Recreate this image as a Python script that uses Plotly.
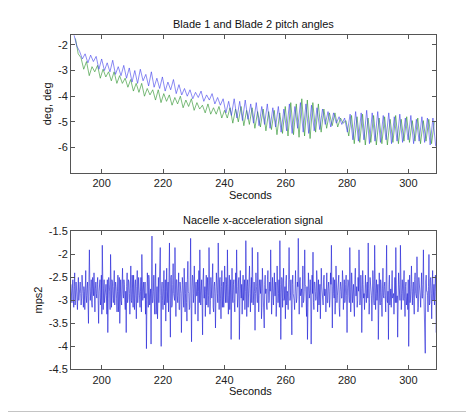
import plotly.graph_objects as go

# sampling of the pitch records (peak / trough samples)
PITCH_T0_B1 = 191.0
PITCH_T0_B2 = 191.45
PITCH_DT = 0.9

blade1_pitch = [
    -1.62, -2.05, -2.25, -2.55, -2.35, -2.70, -2.40, -2.65, -2.45, -2.95,
    -2.55, -3.00, -2.70, -3.05, -2.60, -3.15, -2.85, -3.20, -2.80, -3.30,
    -2.90, -3.45, -3.00, -3.50, -2.95, -3.40, -3.15, -3.60, -3.05, -3.65,
    -3.30, -3.70, -3.25, -3.80, -3.45, -3.75, -3.35, -3.90, -3.55, -3.95,
    -3.70, -4.00, -3.75, -4.10, -3.85, -4.05, -3.80, -4.20, -3.95, -4.15,
    -3.90, -4.30, -4.05, -4.35, -4.10, -4.65, -4.20, -4.75, -4.10, -4.85,
    -4.20, -4.95, -4.15, -4.90, -4.30, -5.05, -4.25, -5.15, -4.40, -5.10,
    -4.30, -5.25, -4.45, -5.20, -4.40, -5.40, -4.50, -5.35, -4.30, -5.45,
    -4.40, -5.25, -4.25, -5.40, -4.30, -5.45, -4.35, -5.35, -4.45, -5.30,
    -4.50, -5.10, -4.60, -5.20, -4.65, -5.05, -4.80, -5.10, -4.85, -5.40,
    -4.70, -5.70, -4.60, -5.75, -4.65, -5.70, -4.55, -5.85, -4.65, -5.75,
    -4.60, -5.80, -4.75, -5.70, -4.65, -5.85, -4.80, -5.75, -4.70, -5.80,
    -4.85, -5.70, -4.75, -5.85, -4.90, -5.75, -4.80, -5.80, -4.85, -5.90,
    -4.85, -5.95,
]

blade2_pitch = [
    -1.75, -2.35, -2.50, -2.95, -2.65, -3.20, -2.85, -3.05, -2.80, -3.30,
    -2.95, -3.25, -3.05, -3.40, -3.05, -3.50, -3.20, -3.50, -3.30, -3.65,
    -3.35, -3.80, -3.50, -3.85, -3.50, -4.00, -3.70, -3.95, -3.75, -4.15,
    -3.75, -4.25, -3.90, -4.20, -3.95, -4.35, -4.05, -4.30, -4.00, -4.45,
    -4.15, -4.40, -4.10, -4.55, -4.25, -4.50, -4.35, -4.65, -4.30, -4.70,
    -4.45, -4.70, -4.40, -4.85, -4.55, -4.85, -4.45, -5.05, -4.50, -5.00,
    -4.40, -5.15, -4.55, -5.10, -4.45, -5.25, -4.60, -5.20, -4.50, -5.35,
    -4.60, -5.30, -4.55, -5.50, -4.65, -5.45, -4.40, -5.55, -4.25, -5.50,
    -4.30, -5.60, -4.10, -5.55, -4.15, -5.65, -4.25, -5.40, -4.30, -5.40,
    -4.50, -5.25, -4.65, -5.15, -4.65, -5.20, -4.85, -5.05, -4.95, -5.55,
    -4.75, -5.85, -4.80, -5.80, -4.70, -5.90, -4.85, -5.80, -4.75, -5.90,
    -4.85, -5.85, -4.80, -5.90, -4.90, -5.80, -4.75, -5.85, -4.90, -5.75,
    -4.80, -5.80, -4.95, -5.75, -4.85, -5.85, -4.95, -5.75, -4.90, -5.85,
    -5.00,
]

# nacelle acceleration: main samples every ACC_DT, in-between samples offset by half a step
ACC_T0 = 190.0
ACC_DT = 0.3

nacelle_acc = [
    -2.65, -3.05, -2.55, -3.15, -2.40, -2.95, -2.75, -3.20, -2.50, -2.90, -2.60, -3.10, -2.45, -2.85, -2.70, -3.20, -2.35, -3.05, -2.60, -3.50,
    -1.90, -3.00, -2.55, -3.15, -2.70, -2.40, -3.25, -2.60, -2.95, -2.50, -3.50, -2.70, -3.10, -2.45, -1.80, -3.20, -2.55, -2.90, -2.65, -3.30,
    -3.70, -2.50, -2.80, -2.00, -3.15, -2.60, -3.05, -2.35, -2.90, -2.70, -3.25, -2.45, -2.85, -3.50, -2.55, -3.10, -2.30, -2.95, -2.65, -3.20,
    -3.70, -2.40, -2.95, -2.60, -3.30, -2.25, -3.05, -2.75, -2.45, -3.20, -2.55, -3.40, -2.35, -2.90, -2.65, -3.15, -2.50, -2.00, -3.00, -2.60,
    -2.90, -3.30, -4.05, -2.40, -3.15, -2.55, -2.85, -3.95, -1.60, -3.05, -2.45, -3.30, -2.20, -2.95, -3.40, -2.50, -2.75, -1.85, -4.00, -2.60,
    -3.20, -2.35, -2.95, -3.45, -2.30, -2.80, -3.25, -1.75, -3.80, -2.45, -3.10, -2.20, -2.95, -1.85, -3.35, -2.55, -3.05, -2.40, -3.20, -2.70,
    -3.70, -2.50, -2.90, -2.30, -3.25, -2.60, -3.45, -2.15, -2.85, -3.15, -1.65, -3.90, -2.45, -3.05, -2.25, -3.30, -2.60, -2.90, -3.45, -2.35,
    -1.90, -3.10, -2.55, -3.75, -2.30, -2.95, -3.35, -2.45, -2.80, -3.15, -1.85, -3.30, -2.50, -2.95, -2.20, -3.25, -2.60, -3.60, -2.40, -2.85,
    -1.75, -3.20, -2.50, -3.40, -2.35, -2.90, -3.15, -2.25, -3.05, -2.65, -1.90, -3.30, -2.45, -2.80, -3.85, -2.30, -3.05, -2.55, -3.25, -2.40,
    -1.90, -3.15, -2.60, -3.85, -2.35, -2.95, -3.30, -2.45, -2.85, -3.20, -1.70, -3.35, -2.55, -2.90, -2.25, -3.25, -2.50, -1.85, -3.10, -2.60,
    -3.65, -2.40, -2.95, -1.95, -3.25, -2.55, -2.85, -3.40, -2.30, -3.00, -3.60, -2.45, -2.75, -3.20, -2.35, -3.05, -2.60, -1.90, -3.30, -2.50,
    -3.10, -2.40, -2.90, -3.35, -2.25, -3.05, -2.55, -1.70, -3.85, -2.50, -3.15, -2.30, -2.95, -3.40, -2.45, -2.80, -3.20, -1.85, -3.00, -2.55,
    -3.75, -2.45, -2.90, -3.20, -2.35, -3.05, -2.60, -1.65, -3.30, -2.50, -2.85, -3.15, -2.25, -3.00, -1.90, -2.70, -3.35, -3.85, -2.40, -2.95,
    -2.55, -3.95, -2.45, -1.95, -3.20, -2.60, -3.00, -2.35, -3.25, -2.55, -2.90, -3.40, -2.30, -2.85, -3.10, -2.45, -2.75, -3.25, -2.40, -3.05,
    -2.60, -3.15, -2.40, -1.80, -3.60, -2.50, -2.95, -3.30, -2.25, -3.05, -2.70, -2.45, -3.35, -2.60, -2.95, -2.35, -3.20, -2.55, -3.00, -2.45,
    -3.70, -2.55, -2.90, -1.85, -3.25, -2.40, -3.05, -2.65, -3.35, -2.30, -2.90, -3.15, -2.50, -1.90, -3.10, -2.45, -3.70, -2.35, -2.95, -3.20,
    -2.45, -3.05, -2.60, -1.75, -3.30, -2.50, -2.85, -3.45, -2.35, -3.00, -1.80, -3.20, -2.55, -2.90, -3.85, -2.40, -3.10, -2.65, -3.35, -2.30,
    -2.95, -2.60, -3.25, -1.80, -3.05, -3.85, -2.45, -2.90, -3.15, -2.35, -2.85, -3.30, -2.50, -1.85, -3.05, -3.80, -2.40, -2.95, -1.80, -3.20,
    -2.55, -3.00, -2.35, -3.35, -2.60, -2.85, -3.20, -4.00, -2.45, -2.95, -2.25, -3.10, -2.60, -3.30, -2.40, -2.90, -2.05, -3.25, -2.50, -2.85,
    -3.15, -2.40, -2.95, -1.90, -3.30, -4.15, -2.45, -2.80, -3.25, -2.00, -3.05, -2.50, -3.40, -2.35, -2.90, -3.10, -2.45, -3.70, -2.55, -2.80,
]

nacelle_acc_mid = [
    -2.85, -2.75, -2.95, -2.70, -3.10, -2.60, -2.90, -2.80, -3.00, -2.70, -2.85, -2.95, -2.60, -3.15, -2.80, -2.65, -2.90, -2.75, -3.05, -2.55,
    -2.70, -2.80, -3.05, -2.50, -2.90, -3.15, -2.75, -2.85, -2.65, -3.00, -2.80, -2.55, -2.95, -3.30, -2.60, -2.75, -3.05, -2.70, -2.90, -2.55,
    -2.95, -2.65, -3.20, -2.75, -2.55, -2.90, -2.70, -3.10, -2.60, -2.95, -2.80, -3.25, -2.50, -2.75, -3.00, -2.65, -2.85, -2.55, -3.05, -2.80,
    -2.70, -3.05, -2.55, -2.85, -2.75, -3.00, -2.45, -3.15, -2.80, -2.65, -2.95, -2.70, -3.05, -2.50, -2.90, -2.80, -3.25, -2.60, -2.75, -2.95,
    -2.60, -2.85, -3.00, -2.70, -2.45, -3.10, -2.75, -2.55, -3.05, -2.80, -2.95, -2.60, -3.30, -2.70, -2.85, -3.05, -2.40, -2.90, -2.75, -3.00,
    -2.75, -3.10, -2.55, -2.80, -3.05, -2.60, -2.70, -2.95, -2.50, -3.15, -2.65, -2.85, -3.00, -2.70, -2.55, -2.90, -2.75, -3.20, -2.60, -2.85,
    -2.90, -2.65, -3.15, -2.70, -2.85, -3.05, -2.55, -2.80, -3.20, -2.60, -2.95, -2.75, -2.50, -2.85, -3.10, -2.65, -2.90, -2.55, -2.80, -3.05,
    -2.60, -2.85, -3.05, -2.55, -2.95, -2.70, -2.80, -3.10, -2.50, -2.90, -2.65, -3.00, -2.75, -2.55, -3.15, -2.70, -2.85, -2.95, -2.60, -3.05,
    -2.80, -2.55, -2.95, -2.70, -3.15, -2.60, -2.85, -2.75, -2.50, -3.05, -2.70, -2.90, -3.20, -2.55, -2.80, -2.95, -2.65, -3.05, -2.75, -2.85,
    -2.70, -2.95, -2.50, -3.10, -2.75, -2.65, -2.90, -3.00, -2.55, -2.80, -2.95, -2.70, -3.15, -2.60, -2.85, -2.75, -3.05, -2.50, -2.90, -2.80,
    -2.85, -2.70, -3.05, -2.60, -2.90, -2.80, -2.55, -3.15, -2.70, -2.95, -2.65, -2.85, -3.10, -2.55, -2.75, -3.00, -2.80, -2.60, -2.95, -2.70,
    -2.75, -2.90, -2.60, -3.05, -2.70, -2.85, -3.15, -2.65, -2.95, -2.55, -2.80, -3.00, -2.70, -2.60, -3.10, -2.85, -2.75, -2.55, -2.90, -3.05,
    -2.65, -2.85, -3.00, -2.55, -2.80, -2.95, -2.70, -3.10, -2.60, -2.90, -2.75, -2.50, -3.05, -2.80, -2.65, -2.95, -2.70, -3.15, -2.60, -2.85,
    -2.90, -2.70, -2.85, -3.05, -2.60, -2.80, -2.95, -2.55, -2.75, -3.10, -2.65, -2.85, -2.70, -3.00, -2.55, -2.90, -2.80, -2.65, -3.05, -2.75,
    -2.80, -2.95, -2.65, -3.10, -2.70, -2.85, -2.55, -3.00, -2.75, -2.90, -2.60, -3.15, -2.80, -2.70, -2.95, -2.55, -2.85, -3.05, -2.65, -2.90,
    -2.75, -2.60, -3.05, -2.80, -2.95, -2.65, -2.85, -3.10, -2.55, -2.90, -2.70, -3.00, -2.80, -2.60, -2.95, -2.75, -3.15, -2.65, -2.85, -2.70,
    -2.85, -2.65, -2.95, -2.75, -3.05, -2.60, -2.90, -2.80, -2.55, -3.10, -2.70, -2.85, -3.00, -2.65, -2.80, -2.95, -2.55, -3.05, -2.75, -2.90,
    -2.70, -2.90, -2.60, -3.00, -2.80, -2.65, -3.10, -2.75, -2.55, -2.95, -2.85, -2.70, -3.05, -2.60, -2.90, -2.80, -2.65, -3.00, -2.75, -2.85,
    -2.80, -2.60, -2.95, -2.70, -3.10, -2.85, -2.55, -2.90, -3.05, -2.65, -2.80, -2.75, -3.00, -2.55, -2.85, -2.95, -2.70, -3.15, -2.60, -2.90,
    -2.75, -2.95, -2.65, -2.85, -3.05, -2.60, -2.80, -2.90, -2.70, -3.10, -2.55, -2.85, -2.75, -3.00, -2.65, -2.90, -2.80, -3.05, -2.70, -2.85,
]

x_ticks = [200, 220, 240, 260, 280, 300]
pitch_ticks = [-6, -5, -4, -3, -2]
acc_ticks = [-4.5, -4, -3.5, -3, -2.5, -2, -1.5]


def fmt(v):
    return f"{v:g}"


t_b1 = [PITCH_T0_B1 + PITCH_DT * i for i in range(len(blade1_pitch))]
t_b2 = [PITCH_T0_B2 + PITCH_DT * i for i in range(len(blade2_pitch))]

# merge the two acceleration sample sets into one time-ordered record
t_acc, acc = [], []
for i, (a, m) in enumerate(zip(nacelle_acc, nacelle_acc_mid)):
    t_acc += [ACC_T0 + ACC_DT * i, ACC_T0 + ACC_DT * (i + 0.5)]
    acc += [a, m]

W, H = 474, 412
FONT = "Liberation Sans, Arial, sans-serif"


def px_x(p):
    return p / W


def px_y(p):
    return 1 - p / H


fig = go.Figure()
fig.add_trace(go.Scatter(x=t_b2, y=blade2_pitch, mode="lines", xaxis="x", yaxis="y",
                         line=dict(color="rgba(50,150,50,0.8)", width=0.8)))
fig.add_trace(go.Scatter(x=t_b1, y=blade1_pitch, mode="lines", xaxis="x", yaxis="y",
                         line=dict(color="rgba(60,60,235,0.75)", width=0.8)))
fig.add_trace(go.Scatter(x=t_acc, y=acc, mode="lines", xaxis="x2", yaxis="y2",
                         line=dict(color="rgba(30,30,215,0.62)", width=1.0)))

axis_style = dict(showline=True, linecolor="#555", linewidth=1, mirror="ticks",
                  ticks="inside", ticklen=4, tickcolor="#555", showgrid=False,
                  zeroline=False, tickfont=dict(family=FONT, size=11, color="#222"))

xdom = [px_x(63), px_x(428)]
fig.update_layout(
    width=W, height=H,
    margin=dict(l=0, r=0, t=0, b=0),
    paper_bgcolor="white", plot_bgcolor="white",
    showlegend=False,
    xaxis=dict(domain=xdom, anchor="y", range=[190, 309], tickvals=x_ticks,
               ticktext=[fmt(v) for v in x_ticks], **axis_style),
    yaxis=dict(domain=[px_y(164), px_y(22)], anchor="x", range=[-7.0, -1.63],
               tickvals=pitch_ticks, ticktext=[fmt(v) for v in pitch_ticks], **axis_style),
    xaxis2=dict(domain=xdom, anchor="y2", range=[190, 309], tickvals=x_ticks,
                ticktext=[fmt(v) for v in x_ticks], **axis_style),
    yaxis2=dict(domain=[px_y(366), px_y(224)], anchor="x2", range=[-4.5, -1.5],
                tickvals=acc_ticks, ticktext=[fmt(v) for v in acc_ticks], **axis_style),
)

labels = [
    ("Blade 1 and Blade 2 pitch angles", 245.5, 10, 0),
    ("Seconds", 243, 186, 0),
    ("deg, deg", 39, 93, -90),
    ("Nacelle x-acceleration signal", 245.5, 212, 0),
    ("Seconds", 243, 388, 0),
    ("mps2", 30, 295, -90),
]
for text, x, y, ang in labels:
    fig.add_annotation(text=text, xref="paper", yref="paper", x=px_x(x), y=px_y(y),
                       showarrow=False, textangle=ang, xanchor="center", yanchor="middle",
                       font=dict(family=FONT, size=11, color="#111"))

# grey strip along the bottom edge of the picture
fig.add_shape(type="rect", xref="paper", yref="paper", x0=0, x1=1, y0=0, y1=px_y(409.5),
              fillcolor="#8a8a8a", line=dict(width=0))

fig.write_html("out.html")
